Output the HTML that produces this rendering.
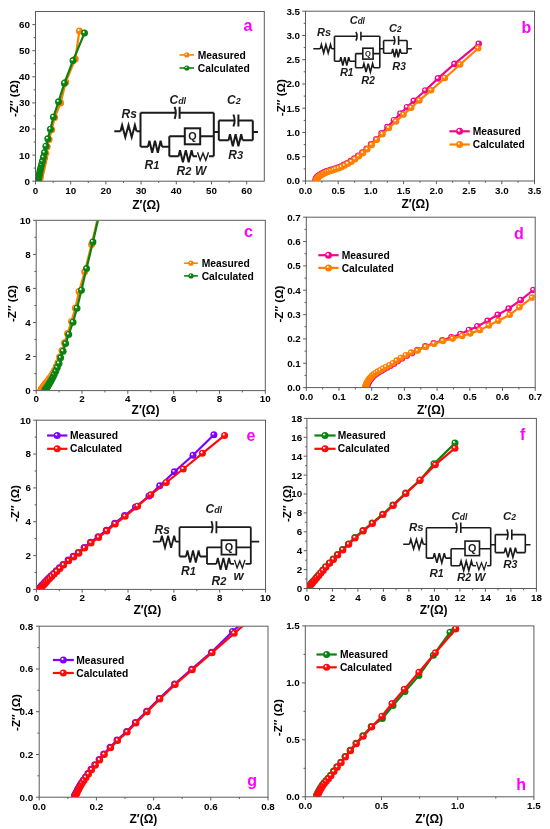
<!DOCTYPE html>
<html lang="en"><head><meta charset="utf-8"><title>Nyquist plots</title>
<style>html,body{margin:0;padding:0;background:#fff}svg{display:block}text{font-family:'Liberation Sans', Arial, sans-serif}.tk text{font-size:9.8px;font-weight:700;fill:#000}.al{font-size:12px;font-weight:700;fill:#000}.yl{font-size:11.7px}.lg{font-size:10.3px;font-weight:700;fill:#000}.pl{font-size:16px;font-weight:700;fill:#ff00ff}.ci text{font-weight:700;font-style:italic;fill:#1a1a1a}.sb{font-size:.74em}.sn{font-size:.92em}</style></head><body>
<svg width="550" height="829" viewBox="0 0 550 829">
<rect width="550" height="829" fill="#fff"/>
<defs>
<radialGradient id="g-orange" cx="0.5" cy="0.5" r="0.5" fx="0.32" fy="0.30"><stop offset="0" stop-color="#fff"/><stop offset="0.13" stop-color="#fff"/><stop offset="0.42" stop-color="#ff8000"/><stop offset="1" stop-color="#ff8000"/></radialGradient>
<radialGradient id="g-green" cx="0.5" cy="0.5" r="0.5" fx="0.32" fy="0.30"><stop offset="0" stop-color="#fff"/><stop offset="0.13" stop-color="#fff"/><stop offset="0.42" stop-color="#0a8212"/><stop offset="1" stop-color="#0a8212"/></radialGradient>
<radialGradient id="g-pink" cx="0.5" cy="0.5" r="0.5" fx="0.32" fy="0.30"><stop offset="0" stop-color="#fff"/><stop offset="0.2" stop-color="#fff"/><stop offset="0.5" stop-color="#f4058c"/><stop offset="1" stop-color="#f4058c"/></radialGradient>
<radialGradient id="g-purple" cx="0.5" cy="0.5" r="0.5" fx="0.32" fy="0.30"><stop offset="0" stop-color="#fff"/><stop offset="0.13" stop-color="#fff"/><stop offset="0.42" stop-color="#8000ff"/><stop offset="1" stop-color="#8000ff"/></radialGradient>
<radialGradient id="g-red" cx="0.5" cy="0.5" r="0.5" fx="0.32" fy="0.30"><stop offset="0" stop-color="#fff"/><stop offset="0.13" stop-color="#fff"/><stop offset="0.42" stop-color="#ff0a0a"/><stop offset="1" stop-color="#ff0a0a"/></radialGradient>
</defs>
<clipPath id="ca"><rect x="36" y="12" width="227.8" height="168.7"/></clipPath>
<rect x="35.5" y="11.5" width="228.8" height="169.7" fill="none" stroke="#5c5c5c" stroke-width="1"/>
<path d="M35.5 181.2v3.2M70.7 181.2v3.2M105.9 181.2v3.2M141.1 181.2v3.2M176.3 181.2v3.2M211.5 181.2v3.2M246.7 181.2v3.2M53.1 181.2v1.8M88.3 181.2v1.8M123.5 181.2v1.8M158.7 181.2v1.8M193.9 181.2v1.8M229.1 181.2v1.8M35.5 181.2h-3.2M35.5 155.1h-3.2M35.5 129h-3.2M35.5 102.9h-3.2M35.5 76.8h-3.2M35.5 50.7h-3.2M35.5 24.6h-3.2M35.5 168.1h-1.8M35.5 142h-1.8M35.5 115.9h-1.8M35.5 89.8h-1.8M35.5 63.7h-1.8M35.5 37.6h-1.8" stroke="#5c5c5c" stroke-width="1" fill="none"/>
<g class="tk" text-anchor="middle">
<text x="35.5" y="194.2">0</text>
<text x="70.7" y="194.2">10</text>
<text x="105.9" y="194.2">20</text>
<text x="141.1" y="194.2">30</text>
<text x="176.3" y="194.2">40</text>
<text x="211.5" y="194.2">50</text>
<text x="246.7" y="194.2">60</text>
</g><g class="tk" text-anchor="end">
<text x="30" y="184.6">0</text>
<text x="30" y="158.5">10</text>
<text x="30" y="132.4">20</text>
<text x="30" y="106.3">30</text>
<text x="30" y="80.2">40</text>
<text x="30" y="54.1">50</text>
<text x="30" y="28">60</text>
</g>
<text class="al" text-anchor="middle" x="146.1" y="208.6">Z′(Ω)</text>
<text class="al yl" text-anchor="middle" transform="translate(17.6 98.5) rotate(-90)">-Z″ (Ω)</text>
<g clip-path="url(#ca)">
<polyline fill="none" stroke="#ff8000" stroke-width="2.2" stroke-linejoin="round" points="39.3,181.2 39.5,180.3 39.7,179.3 40,178.1 40.3,176.7 40.6,175 41,173.1 41.5,170.9 42.1,168.4 42.8,165.4 43.7,161.9 44.7,157.9 45.8,153.2 47.2,146.8 49.1,139.4 51.7,129.8 54.7,117.6 60.6,103 65.8,81.9 75.3,59 79.4,31"/>
<circle cx="39.3" cy="181.2" r="3.5" fill="url(#g-orange)"/>
<circle cx="39.5" cy="180.3" r="3.5" fill="url(#g-orange)"/>
<circle cx="39.7" cy="179.3" r="3.5" fill="url(#g-orange)"/>
<circle cx="40" cy="178.1" r="3.5" fill="url(#g-orange)"/>
<circle cx="40.3" cy="176.7" r="3.5" fill="url(#g-orange)"/>
<circle cx="40.6" cy="175" r="3.5" fill="url(#g-orange)"/>
<circle cx="41" cy="173.1" r="3.5" fill="url(#g-orange)"/>
<circle cx="41.5" cy="170.9" r="3.5" fill="url(#g-orange)"/>
<circle cx="42.1" cy="168.4" r="3.5" fill="url(#g-orange)"/>
<circle cx="42.8" cy="165.4" r="3.5" fill="url(#g-orange)"/>
<circle cx="43.7" cy="161.9" r="3.5" fill="url(#g-orange)"/>
<circle cx="44.7" cy="157.9" r="3.5" fill="url(#g-orange)"/>
<circle cx="45.8" cy="153.2" r="3.5" fill="url(#g-orange)"/>
<circle cx="47.2" cy="146.8" r="3.5" fill="url(#g-orange)"/>
<circle cx="49.1" cy="139.4" r="3.5" fill="url(#g-orange)"/>
<circle cx="51.7" cy="129.8" r="3.5" fill="url(#g-orange)"/>
<circle cx="54.7" cy="117.6" r="3.5" fill="url(#g-orange)"/>
<circle cx="60.6" cy="103" r="3.5" fill="url(#g-orange)"/>
<circle cx="65.8" cy="81.9" r="3.5" fill="url(#g-orange)"/>
<circle cx="75.3" cy="59" r="3.5" fill="url(#g-orange)"/>
<circle cx="79.4" cy="31" r="3.5" fill="url(#g-orange)"/>
</g>
<g clip-path="url(#ca)">
<polyline fill="none" stroke="#0a8212" stroke-width="2.2" stroke-linejoin="round" points="38,180.6 38.2,179.7 38.4,178.7 38.7,177.5 39,176.1 39.3,174.4 39.7,172.5 40.2,170.3 40.8,167.8 41.5,164.8 42.4,161.3 43.4,157.3 44.5,152.6 45.9,146.2 47.8,138.8 50.4,129.2 53.4,117 58.5,101.8 64.4,83.2 73,60.6 84.5,33.1"/>
<circle cx="38" cy="180.6" r="3.5" fill="url(#g-green)"/>
<circle cx="38.2" cy="179.7" r="3.5" fill="url(#g-green)"/>
<circle cx="38.4" cy="178.7" r="3.5" fill="url(#g-green)"/>
<circle cx="38.7" cy="177.5" r="3.5" fill="url(#g-green)"/>
<circle cx="39" cy="176.1" r="3.5" fill="url(#g-green)"/>
<circle cx="39.3" cy="174.4" r="3.5" fill="url(#g-green)"/>
<circle cx="39.7" cy="172.5" r="3.5" fill="url(#g-green)"/>
<circle cx="40.2" cy="170.3" r="3.5" fill="url(#g-green)"/>
<circle cx="40.8" cy="167.8" r="3.5" fill="url(#g-green)"/>
<circle cx="41.5" cy="164.8" r="3.5" fill="url(#g-green)"/>
<circle cx="42.4" cy="161.3" r="3.5" fill="url(#g-green)"/>
<circle cx="43.4" cy="157.3" r="3.5" fill="url(#g-green)"/>
<circle cx="44.5" cy="152.6" r="3.5" fill="url(#g-green)"/>
<circle cx="45.9" cy="146.2" r="3.5" fill="url(#g-green)"/>
<circle cx="47.8" cy="138.8" r="3.5" fill="url(#g-green)"/>
<circle cx="50.4" cy="129.2" r="3.5" fill="url(#g-green)"/>
<circle cx="53.4" cy="117" r="3.5" fill="url(#g-green)"/>
<circle cx="58.5" cy="101.8" r="3.5" fill="url(#g-green)"/>
<circle cx="64.4" cy="83.2" r="3.5" fill="url(#g-green)"/>
<circle cx="73" cy="60.6" r="3.5" fill="url(#g-green)"/>
<circle cx="84.5" cy="33.1" r="3.5" fill="url(#g-green)"/>
</g>
<line x1="179.5" y1="54.9" x2="194" y2="54.9" stroke="#ff8000" stroke-width="1.6"/>
<circle cx="186.8" cy="54.9" r="2.6" fill="url(#g-orange)"/>
<text class="lg" x="197.8" y="58.5">Measured</text>
<line x1="179.5" y1="68" x2="194" y2="68" stroke="#0a8212" stroke-width="1.6"/>
<circle cx="186.8" cy="68" r="2.6" fill="url(#g-green)"/>
<text class="lg" x="197.8" y="71.6">Calculated</text>
<text class="pl" x="243.6" y="30.6">a</text>
<path d="M114.3 131.2H120.5M120.5 131.2L122.1 125.2L125.3 137.2L128.5 125.2L131.7 137.2L134.9 125.2L136.5 131.2M136.5 131.2H140.5M140.5 112.8V146.8M140.5 112.8H175.6M179.6 112.8H213.8M174.6 106.8Q177 112.8 174.6 118.8 M179.6 106.8v12M213.8 112.8V156.2M140.5 146.8H148M148 146.8L149.4 140.8L152.2 152.8L155 140.8L157.8 152.8L160.6 140.8L162 146.8M162 146.8H169.3M169.3 136.2V156.2M169.3 136.2H184.8M200.2 136.2H213.8M169.3 156.2H178.6M178.6 156.2L180 150.2L182.9 162.2L185.8 150.2L188.7 162.2L191.6 150.2L193 156.2M193 156.2H197M209 156.2H213.8M213.8 132H218.8M218.8 120.5V140.2M252.8 120.5V140.2M218.8 120.5H234.4M238.4 120.5H252.8M233.4 114.5Q235.8 120.5 233.4 126.5 M238.4 114.5v12M218.8 140.2H228.6M228.6 140.2L230 134.2L232.8 146.2L235.6 134.2L238.4 146.2L241.2 134.2L242.6 140.2M242.6 140.2H252.8M252.8 132H258" fill="none" stroke="#1a1a1a" stroke-width="2" stroke-linejoin="miter"/>
<path d="M197.5 152.2L200.2 160.2L203 153.2L205.8 160.2L208.5 152.2" fill="none" stroke="#1a1a1a" stroke-width="1.4" stroke-linejoin="miter"/>
<rect x="184.8" y="128.3" width="15.4" height="16" fill="#fff" stroke="#1a1a1a" stroke-width="2"/>
<text x="192.5" y="140.2" text-anchor="middle" font-size="10.8" font-weight="700" fill="#1a1a1a">Q</text>
<g class="ci" font-size="12">
<text x="121.5" y="117.5">R<tspan font-size="1em">s</tspan></text>
<text x="169.5" y="104.3">C<tspan class="sb">dl</tspan></text>
<text x="144.5" y="169">R<tspan class="sn">1</tspan></text>
<text x="176.5" y="175">R<tspan class="sn">2</tspan></text>
<text x="195" y="175">W</text>
<text x="227" y="104.3">C<tspan class="sb">2</tspan></text>
<text x="228.3" y="159">R<tspan class="sn">3</tspan></text>
</g>
<clipPath id="cb"><rect x="306" y="11.7" width="228" height="168.8"/></clipPath>
<rect x="305.5" y="11.2" width="229" height="169.8" fill="none" stroke="#5c5c5c" stroke-width="1"/>
<path d="M305.5 181v3.2M338.2 181v3.2M370.9 181v3.2M403.6 181v3.2M436.4 181v3.2M469.1 181v3.2M501.8 181v3.2M534.5 181v3.2M321.9 181v1.8M354.6 181v1.8M387.3 181v1.8M420 181v1.8M452.7 181v1.8M485.4 181v1.8M518.1 181v1.8M305.5 181h-3.2M305.5 156.7h-3.2M305.5 132.5h-3.2M305.5 108.2h-3.2M305.5 84h-3.2M305.5 59.7h-3.2M305.5 35.5h-3.2M305.5 11.2h-3.2M305.5 168.9h-1.8M305.5 144.6h-1.8M305.5 120.4h-1.8M305.5 96.1h-1.8M305.5 71.8h-1.8M305.5 47.6h-1.8M305.5 23.3h-1.8" stroke="#5c5c5c" stroke-width="1" fill="none"/>
<g class="tk" text-anchor="middle">
<text x="305.5" y="193.7">0.0</text>
<text x="338.2" y="193.7">0.5</text>
<text x="370.9" y="193.7">1.0</text>
<text x="403.6" y="193.7">1.5</text>
<text x="436.4" y="193.7">2.0</text>
<text x="469.1" y="193.7">2.5</text>
<text x="501.8" y="193.7">3.0</text>
<text x="534.5" y="193.7">3.5</text>
</g><g class="tk" text-anchor="end">
<text x="300" y="184.4">0.0</text>
<text x="300" y="160.1">0.5</text>
<text x="300" y="135.9">1.0</text>
<text x="300" y="111.6">1.5</text>
<text x="300" y="87.4">2.0</text>
<text x="300" y="63.1">2.5</text>
<text x="300" y="38.9">3.0</text>
<text x="300" y="14.6">3.5</text>
</g>
<text class="al" text-anchor="middle" x="415.3" y="208.2">Z′(Ω)</text>
<text class="al yl" text-anchor="middle" transform="translate(284.6 97.7) rotate(-90)">-Z″ (Ω)</text>
<g clip-path="url(#cb)">
<polyline fill="none" stroke="#f4058c" stroke-width="2.2" stroke-linejoin="round" points="315.6,180 315.9,179.4 316.3,178.7 316.6,177.9 317.1,177.1 317.9,176.4 318.7,175.7 319.6,175 320.8,174.3 322,173.6 323.4,172.9 324.9,172.1 326.6,171.4 328.5,170.7 330.6,170.1 332.9,169.3 335.4,168.5 338.1,167.6 341,166.5 344,164.9 347.3,163.2 350.8,161.1 354.4,158.6 358.2,155.7 362.4,152.5 366.7,148.7 371.1,144.3 376.3,139.2 381.6,133.4 387.4,127 394,120.2 400.5,113.6 407,107.2 413.8,100.8 425.3,90.5 438,78.4 454.5,63.9 478.7,43.8"/>
<circle cx="315.6" cy="180" r="3.3" fill="url(#g-pink)"/>
<circle cx="315.9" cy="179.4" r="3.3" fill="url(#g-pink)"/>
<circle cx="316.3" cy="178.7" r="3.3" fill="url(#g-pink)"/>
<circle cx="316.6" cy="177.9" r="3.3" fill="url(#g-pink)"/>
<circle cx="317.1" cy="177.1" r="3.3" fill="url(#g-pink)"/>
<circle cx="317.9" cy="176.4" r="3.3" fill="url(#g-pink)"/>
<circle cx="318.7" cy="175.7" r="3.3" fill="url(#g-pink)"/>
<circle cx="319.6" cy="175" r="3.3" fill="url(#g-pink)"/>
<circle cx="320.8" cy="174.3" r="3.3" fill="url(#g-pink)"/>
<circle cx="322" cy="173.6" r="3.3" fill="url(#g-pink)"/>
<circle cx="323.4" cy="172.9" r="3.3" fill="url(#g-pink)"/>
<circle cx="324.9" cy="172.1" r="3.3" fill="url(#g-pink)"/>
<circle cx="326.6" cy="171.4" r="3.3" fill="url(#g-pink)"/>
<circle cx="328.5" cy="170.7" r="3.3" fill="url(#g-pink)"/>
<circle cx="330.6" cy="170.1" r="3.3" fill="url(#g-pink)"/>
<circle cx="332.9" cy="169.3" r="3.3" fill="url(#g-pink)"/>
<circle cx="335.4" cy="168.5" r="3.3" fill="url(#g-pink)"/>
<circle cx="338.1" cy="167.6" r="3.3" fill="url(#g-pink)"/>
<circle cx="341" cy="166.5" r="3.3" fill="url(#g-pink)"/>
<circle cx="344" cy="164.9" r="3.3" fill="url(#g-pink)"/>
<circle cx="347.3" cy="163.2" r="3.3" fill="url(#g-pink)"/>
<circle cx="350.8" cy="161.1" r="3.3" fill="url(#g-pink)"/>
<circle cx="354.4" cy="158.6" r="3.3" fill="url(#g-pink)"/>
<circle cx="358.2" cy="155.7" r="3.3" fill="url(#g-pink)"/>
<circle cx="362.4" cy="152.5" r="3.3" fill="url(#g-pink)"/>
<circle cx="366.7" cy="148.7" r="3.3" fill="url(#g-pink)"/>
<circle cx="371.1" cy="144.3" r="3.3" fill="url(#g-pink)"/>
<circle cx="376.3" cy="139.2" r="3.3" fill="url(#g-pink)"/>
<circle cx="381.6" cy="133.4" r="3.3" fill="url(#g-pink)"/>
<circle cx="387.4" cy="127" r="3.3" fill="url(#g-pink)"/>
<circle cx="394" cy="120.2" r="3.3" fill="url(#g-pink)"/>
<circle cx="400.5" cy="113.6" r="3.3" fill="url(#g-pink)"/>
<circle cx="407" cy="107.2" r="3.3" fill="url(#g-pink)"/>
<circle cx="413.8" cy="100.8" r="3.3" fill="url(#g-pink)"/>
<circle cx="425.3" cy="90.5" r="3.3" fill="url(#g-pink)"/>
<circle cx="438" cy="78.4" r="3.3" fill="url(#g-pink)"/>
<circle cx="454.5" cy="63.9" r="3.3" fill="url(#g-pink)"/>
<circle cx="478.7" cy="43.8" r="3.3" fill="url(#g-pink)"/>
</g>
<g clip-path="url(#cb)">
<polyline fill="none" stroke="#ff8000" stroke-width="2.2" stroke-linejoin="round" points="316.2,180.6 316.5,180 316.9,179.3 317.2,178.5 317.7,177.7 318.5,177 319.3,176.3 320.2,175.6 321.4,174.9 322.6,174.2 324,173.5 325.5,172.7 327.2,172 329.1,171.3 331.2,170.7 333.5,169.9 336,169.1 338.7,168.2 341.6,167.1 344.6,165.5 347.9,163.8 351.4,161.7 355,159.2 358.8,156.3 363,153.1 367.3,149.3 371.7,144.9 376.8,139.8 382.5,134.2 388.9,128 396,121.4 403.5,114.6 411.2,107.8 419.4,100.4 431.1,90.3 444.9,78 460.1,64.5 478.2,48.3"/>
<circle cx="316.2" cy="180.6" r="3.3" fill="url(#g-orange)"/>
<circle cx="316.5" cy="180" r="3.3" fill="url(#g-orange)"/>
<circle cx="316.9" cy="179.3" r="3.3" fill="url(#g-orange)"/>
<circle cx="317.2" cy="178.5" r="3.3" fill="url(#g-orange)"/>
<circle cx="317.7" cy="177.7" r="3.3" fill="url(#g-orange)"/>
<circle cx="318.5" cy="177" r="3.3" fill="url(#g-orange)"/>
<circle cx="319.3" cy="176.3" r="3.3" fill="url(#g-orange)"/>
<circle cx="320.2" cy="175.6" r="3.3" fill="url(#g-orange)"/>
<circle cx="321.4" cy="174.9" r="3.3" fill="url(#g-orange)"/>
<circle cx="322.6" cy="174.2" r="3.3" fill="url(#g-orange)"/>
<circle cx="324" cy="173.5" r="3.3" fill="url(#g-orange)"/>
<circle cx="325.5" cy="172.7" r="3.3" fill="url(#g-orange)"/>
<circle cx="327.2" cy="172" r="3.3" fill="url(#g-orange)"/>
<circle cx="329.1" cy="171.3" r="3.3" fill="url(#g-orange)"/>
<circle cx="331.2" cy="170.7" r="3.3" fill="url(#g-orange)"/>
<circle cx="333.5" cy="169.9" r="3.3" fill="url(#g-orange)"/>
<circle cx="336" cy="169.1" r="3.3" fill="url(#g-orange)"/>
<circle cx="338.7" cy="168.2" r="3.3" fill="url(#g-orange)"/>
<circle cx="341.6" cy="167.1" r="3.3" fill="url(#g-orange)"/>
<circle cx="344.6" cy="165.5" r="3.3" fill="url(#g-orange)"/>
<circle cx="347.9" cy="163.8" r="3.3" fill="url(#g-orange)"/>
<circle cx="351.4" cy="161.7" r="3.3" fill="url(#g-orange)"/>
<circle cx="355" cy="159.2" r="3.3" fill="url(#g-orange)"/>
<circle cx="358.8" cy="156.3" r="3.3" fill="url(#g-orange)"/>
<circle cx="363" cy="153.1" r="3.3" fill="url(#g-orange)"/>
<circle cx="367.3" cy="149.3" r="3.3" fill="url(#g-orange)"/>
<circle cx="371.7" cy="144.9" r="3.3" fill="url(#g-orange)"/>
<circle cx="376.8" cy="139.8" r="3.3" fill="url(#g-orange)"/>
<circle cx="382.5" cy="134.2" r="3.3" fill="url(#g-orange)"/>
<circle cx="388.9" cy="128" r="3.3" fill="url(#g-orange)"/>
<circle cx="396" cy="121.4" r="3.3" fill="url(#g-orange)"/>
<circle cx="403.5" cy="114.6" r="3.3" fill="url(#g-orange)"/>
<circle cx="411.2" cy="107.8" r="3.3" fill="url(#g-orange)"/>
<circle cx="419.4" cy="100.4" r="3.3" fill="url(#g-orange)"/>
<circle cx="431.1" cy="90.3" r="3.3" fill="url(#g-orange)"/>
<circle cx="444.9" cy="78" r="3.3" fill="url(#g-orange)"/>
<circle cx="460.1" cy="64.5" r="3.3" fill="url(#g-orange)"/>
<circle cx="478.2" cy="48.3" r="3.3" fill="url(#g-orange)"/>
</g>
<line x1="449.4" y1="131.3" x2="469.8" y2="131.3" stroke="#f4058c" stroke-width="2.2"/>
<circle cx="459.6" cy="131.3" r="3.5" fill="url(#g-pink)"/>
<text class="lg" x="472.8" y="134.9">Measured</text>
<line x1="449.4" y1="144.5" x2="469.8" y2="144.5" stroke="#ff8000" stroke-width="2.2"/>
<circle cx="459.6" cy="144.5" r="3.5" fill="url(#g-orange)"/>
<text class="lg" x="472.8" y="148.1">Calculated</text>
<text class="pl" x="521.5" y="33">b</text>
<path d="M313.3 48.8H320.3M320.3 48.8L321.4 44.6L323.7 53L325.9 44.6L328.2 53L330.5 44.6L331.6 48.8M331.6 48.8H334.5M334.5 36.2V61.3M334.5 36.2H356.9M360.9 36.2H379.8M355.9 31.8Q358.3 36.2 355.9 40.6 M360.9 31.8v8.8M379.8 36.2V67.8M334.5 61.3H339.9M339.9 61.3L340.9 57.1L342.8 65.5L344.8 57.1L346.8 65.5L348.7 57.1L349.7 61.3M349.7 61.3H355.6M355.6 53.6V67.8M355.6 53.6H362.8M373.1 53.6H379.8M355.6 67.8H362.8M362.8 67.8L363.9 63.6L366.1 72L368.2 63.6L370.4 72L372.6 63.6L373.7 67.8M373.7 67.8H379.8M379.8 48.8H383.6M383.6 40.5V53.2M407.1 40.5V53.2M383.6 40.5H394.6M398.6 40.5H407.1M393.6 36.1Q396 40.5 393.6 44.9 M398.6 36.1v8.8M383.6 53.2H391.8M391.8 53.2L392.7 49L394.6 57.4L396.4 49L398.2 57.4L400.1 49L401 53.2M401 53.2H407.1M407.1 48.8H411.9" fill="none" stroke="#1a1a1a" stroke-width="1.6" stroke-linejoin="miter"/>
<rect x="362.8" y="48.2" width="10.3" height="10.9" fill="#fff" stroke="#1a1a1a" stroke-width="1.6"/>
<text x="368" y="56.4" text-anchor="middle" font-size="7.5" font-weight="700" fill="#1a1a1a">Q</text>
<g class="ci" font-size="11">
<text x="317" y="36.2">R<tspan font-size="1em">s</tspan></text>
<text x="349.7" y="24.2">C<tspan class="sb">dl</tspan></text>
<text x="339.9" y="75.9">R<tspan class="sn">1</tspan></text>
<text x="361.3" y="84.2">R<tspan class="sn">2</tspan></text>
<text x="389" y="31.8">C<tspan class="sb">2</tspan></text>
<text x="392.3" y="70">R<tspan class="sn">3</tspan></text>
</g>
<clipPath id="cc"><rect x="36.7" y="220.8" width="228.1" height="169.3"/></clipPath>
<rect x="36.2" y="220.3" width="229.1" height="170.3" fill="none" stroke="#5c5c5c" stroke-width="1"/>
<path d="M36.2 390.6v3.2M82 390.6v3.2M127.8 390.6v3.2M173.7 390.6v3.2M219.5 390.6v3.2M265.3 390.6v3.2M59.1 390.6v1.8M104.9 390.6v1.8M150.8 390.6v1.8M196.6 390.6v1.8M242.4 390.6v1.8M36.2 390.6h-3.2M36.2 356.5h-3.2M36.2 322.5h-3.2M36.2 288.4h-3.2M36.2 254.4h-3.2M36.2 220.3h-3.2M36.2 373.6h-1.8M36.2 339.5h-1.8M36.2 305.5h-1.8M36.2 271.4h-1.8M36.2 237.3h-1.8" stroke="#5c5c5c" stroke-width="1" fill="none"/>
<g class="tk" text-anchor="middle">
<text x="36.2" y="402.4">0</text>
<text x="82" y="402.4">2</text>
<text x="127.8" y="402.4">4</text>
<text x="173.7" y="402.4">6</text>
<text x="219.5" y="402.4">8</text>
<text x="265.3" y="402.4">10</text>
</g><g class="tk" text-anchor="end">
<text x="30.7" y="394">0</text>
<text x="30.7" y="359.9">2</text>
<text x="30.7" y="325.9">4</text>
<text x="30.7" y="291.8">6</text>
<text x="30.7" y="257.8">8</text>
<text x="30.7" y="223.7">10</text>
</g>
<text class="al" text-anchor="middle" x="145.5" y="413.6">Z′(Ω)</text>
<text class="al yl" text-anchor="middle" transform="translate(16.4 303.6) rotate(-90)">-Z″ (Ω)</text>
<g clip-path="url(#cc)">
<polyline fill="none" stroke="#ff8000" stroke-width="2.2" stroke-linejoin="round" points="41,390 41.3,389.6 41.6,389 42,388.5 42.5,387.8 43,387 43.6,386.2 44.3,385.2 45.1,384.1 46.1,382.9 47.2,381.5 48.4,379.9 49.8,378 51.4,375.9 52.9,373.3 54.6,370.2 56.3,366.6 58,362.4 59.6,357 62,350.4 64.5,342.8 67.5,333.6 71.5,321.4 75.3,308 79,291.5 84.7,271.7 91.6,244.4 99.6,210"/>
<circle cx="41" cy="390" r="3.5" fill="url(#g-orange)"/>
<circle cx="41.3" cy="389.6" r="3.5" fill="url(#g-orange)"/>
<circle cx="41.6" cy="389" r="3.5" fill="url(#g-orange)"/>
<circle cx="42" cy="388.5" r="3.5" fill="url(#g-orange)"/>
<circle cx="42.5" cy="387.8" r="3.5" fill="url(#g-orange)"/>
<circle cx="43" cy="387" r="3.5" fill="url(#g-orange)"/>
<circle cx="43.6" cy="386.2" r="3.5" fill="url(#g-orange)"/>
<circle cx="44.3" cy="385.2" r="3.5" fill="url(#g-orange)"/>
<circle cx="45.1" cy="384.1" r="3.5" fill="url(#g-orange)"/>
<circle cx="46.1" cy="382.9" r="3.5" fill="url(#g-orange)"/>
<circle cx="47.2" cy="381.5" r="3.5" fill="url(#g-orange)"/>
<circle cx="48.4" cy="379.9" r="3.5" fill="url(#g-orange)"/>
<circle cx="49.8" cy="378" r="3.5" fill="url(#g-orange)"/>
<circle cx="51.4" cy="375.9" r="3.5" fill="url(#g-orange)"/>
<circle cx="52.9" cy="373.3" r="3.5" fill="url(#g-orange)"/>
<circle cx="54.6" cy="370.2" r="3.5" fill="url(#g-orange)"/>
<circle cx="56.3" cy="366.6" r="3.5" fill="url(#g-orange)"/>
<circle cx="58" cy="362.4" r="3.5" fill="url(#g-orange)"/>
<circle cx="59.6" cy="357" r="3.5" fill="url(#g-orange)"/>
<circle cx="62" cy="350.4" r="3.5" fill="url(#g-orange)"/>
<circle cx="64.5" cy="342.8" r="3.5" fill="url(#g-orange)"/>
<circle cx="67.5" cy="333.6" r="3.5" fill="url(#g-orange)"/>
<circle cx="71.5" cy="321.4" r="3.5" fill="url(#g-orange)"/>
<circle cx="75.3" cy="308" r="3.5" fill="url(#g-orange)"/>
<circle cx="79" cy="291.5" r="3.5" fill="url(#g-orange)"/>
<circle cx="84.7" cy="271.7" r="3.5" fill="url(#g-orange)"/>
<circle cx="91.6" cy="244.4" r="3.5" fill="url(#g-orange)"/>
<circle cx="99.6" cy="210" r="3.5" fill="url(#g-orange)"/>
</g>
<g clip-path="url(#cc)">
<polyline fill="none" stroke="#0a8212" stroke-width="2.2" stroke-linejoin="round" points="45,390 45.3,389.6 45.7,389.1 46.1,388.5 46.5,387.9 47.1,387.1 47.7,386.2 48.3,385.2 49,384 49.9,382.6 50.8,380.9 51.9,379 53.1,376.8 54.3,374.2 55.8,371.1 57.3,367.5 59,363.4 60.6,357.8 63.1,351.2 65.6,343.6 68.7,334.4 73,322.2 77,308.2 81.4,290.2 86.5,268.6 92.9,241.9 100.6,209"/>
<circle cx="45" cy="390" r="3.5" fill="url(#g-green)"/>
<circle cx="45.3" cy="389.6" r="3.5" fill="url(#g-green)"/>
<circle cx="45.7" cy="389.1" r="3.5" fill="url(#g-green)"/>
<circle cx="46.1" cy="388.5" r="3.5" fill="url(#g-green)"/>
<circle cx="46.5" cy="387.9" r="3.5" fill="url(#g-green)"/>
<circle cx="47.1" cy="387.1" r="3.5" fill="url(#g-green)"/>
<circle cx="47.7" cy="386.2" r="3.5" fill="url(#g-green)"/>
<circle cx="48.3" cy="385.2" r="3.5" fill="url(#g-green)"/>
<circle cx="49" cy="384" r="3.5" fill="url(#g-green)"/>
<circle cx="49.9" cy="382.6" r="3.5" fill="url(#g-green)"/>
<circle cx="50.8" cy="380.9" r="3.5" fill="url(#g-green)"/>
<circle cx="51.9" cy="379" r="3.5" fill="url(#g-green)"/>
<circle cx="53.1" cy="376.8" r="3.5" fill="url(#g-green)"/>
<circle cx="54.3" cy="374.2" r="3.5" fill="url(#g-green)"/>
<circle cx="55.8" cy="371.1" r="3.5" fill="url(#g-green)"/>
<circle cx="57.3" cy="367.5" r="3.5" fill="url(#g-green)"/>
<circle cx="59" cy="363.4" r="3.5" fill="url(#g-green)"/>
<circle cx="60.6" cy="357.8" r="3.5" fill="url(#g-green)"/>
<circle cx="63.1" cy="351.2" r="3.5" fill="url(#g-green)"/>
<circle cx="65.6" cy="343.6" r="3.5" fill="url(#g-green)"/>
<circle cx="68.7" cy="334.4" r="3.5" fill="url(#g-green)"/>
<circle cx="73" cy="322.2" r="3.5" fill="url(#g-green)"/>
<circle cx="77" cy="308.2" r="3.5" fill="url(#g-green)"/>
<circle cx="81.4" cy="290.2" r="3.5" fill="url(#g-green)"/>
<circle cx="86.5" cy="268.6" r="3.5" fill="url(#g-green)"/>
<circle cx="92.9" cy="241.9" r="3.5" fill="url(#g-green)"/>
<circle cx="100.6" cy="209" r="3.5" fill="url(#g-green)"/>
</g>
<line x1="184.1" y1="263.2" x2="197.9" y2="263.2" stroke="#ff8000" stroke-width="1.6"/>
<circle cx="191" cy="263.2" r="2.6" fill="url(#g-orange)"/>
<text class="lg" x="201.7" y="266.8">Measured</text>
<line x1="184.1" y1="275.9" x2="197.9" y2="275.9" stroke="#0a8212" stroke-width="1.6"/>
<circle cx="191" cy="275.9" r="2.6" fill="url(#g-green)"/>
<text class="lg" x="201.7" y="279.5">Calculated</text>
<text class="pl" x="244" y="237">c</text>
<clipPath id="cd"><rect x="306.8" y="217.7" width="227.9" height="169.4"/></clipPath>
<rect x="306.3" y="217.2" width="228.9" height="170.4" fill="none" stroke="#5c5c5c" stroke-width="1"/>
<path d="M306.3 387.6v3.2M339 387.6v3.2M371.7 387.6v3.2M404.4 387.6v3.2M437.1 387.6v3.2M469.8 387.6v3.2M502.5 387.6v3.2M535.2 387.6v3.2M322.6 387.6v1.8M355.4 387.6v1.8M388.1 387.6v1.8M420.8 387.6v1.8M453.5 387.6v1.8M486.2 387.6v1.8M518.9 387.6v1.8M306.3 387.6h-3.2M306.3 363.3h-3.2M306.3 338.9h-3.2M306.3 314.6h-3.2M306.3 290.2h-3.2M306.3 265.9h-3.2M306.3 241.5h-3.2M306.3 217.2h-3.2M306.3 375.4h-1.8M306.3 351.1h-1.8M306.3 326.7h-1.8M306.3 302.4h-1.8M306.3 278.1h-1.8M306.3 253.7h-1.8M306.3 229.4h-1.8" stroke="#5c5c5c" stroke-width="1" fill="none"/>
<g class="tk" text-anchor="middle">
<text x="306.3" y="399.8">0.0</text>
<text x="339" y="399.8">0.1</text>
<text x="371.7" y="399.8">0.2</text>
<text x="404.4" y="399.8">0.3</text>
<text x="437.1" y="399.8">0.4</text>
<text x="469.8" y="399.8">0.5</text>
<text x="502.5" y="399.8">0.6</text>
<text x="535.2" y="399.8">0.7</text>
</g><g class="tk" text-anchor="end">
<text x="300.8" y="391">0.0</text>
<text x="300.8" y="366.7">0.1</text>
<text x="300.8" y="342.3">0.2</text>
<text x="300.8" y="318">0.3</text>
<text x="300.8" y="293.6">0.4</text>
<text x="300.8" y="269.3">0.5</text>
<text x="300.8" y="244.9">0.6</text>
<text x="300.8" y="220.6">0.7</text>
</g>
<text class="al" text-anchor="middle" x="430.9" y="414">Z′(Ω)</text>
<text class="al yl" text-anchor="middle" transform="translate(283.4 304.1) rotate(-90)">-Z″ (Ω)</text>
<g clip-path="url(#cd)">
<polyline fill="none" stroke="#f4058c" stroke-width="2.2" stroke-linejoin="round" points="366.3,387.7 366.5,387 366.8,386.2 367.1,385.4 367.4,384.5 367.9,383.5 368.5,382.5 369.1,381.3 369.9,380.1 370.9,378.9 372,377.5 373.3,376.1 374.9,374.8 376.8,373.5 379,372.1 381.4,370.7 384.1,369.1 387.1,367.5 390.4,365.7 393.9,363.7 397.7,361.1 401.9,358.5 406.7,355.8 412.1,353.1 417.4,350 425.4,346.4 433.8,343.2 442.4,340.2 451.5,337.4 460.5,334 469,330 477.4,326.4 487.6,320.7 497.8,314.8 508.7,308.6 520.7,300.1 533.4,290 549,277"/>
<circle cx="366.3" cy="387.7" r="3.3" fill="url(#g-pink)"/>
<circle cx="366.5" cy="387" r="3.3" fill="url(#g-pink)"/>
<circle cx="366.8" cy="386.2" r="3.3" fill="url(#g-pink)"/>
<circle cx="367.1" cy="385.4" r="3.3" fill="url(#g-pink)"/>
<circle cx="367.4" cy="384.5" r="3.3" fill="url(#g-pink)"/>
<circle cx="367.9" cy="383.5" r="3.3" fill="url(#g-pink)"/>
<circle cx="368.5" cy="382.5" r="3.3" fill="url(#g-pink)"/>
<circle cx="369.1" cy="381.3" r="3.3" fill="url(#g-pink)"/>
<circle cx="369.9" cy="380.1" r="3.3" fill="url(#g-pink)"/>
<circle cx="370.9" cy="378.9" r="3.3" fill="url(#g-pink)"/>
<circle cx="372" cy="377.5" r="3.3" fill="url(#g-pink)"/>
<circle cx="373.3" cy="376.1" r="3.3" fill="url(#g-pink)"/>
<circle cx="374.9" cy="374.8" r="3.3" fill="url(#g-pink)"/>
<circle cx="376.8" cy="373.5" r="3.3" fill="url(#g-pink)"/>
<circle cx="379" cy="372.1" r="3.3" fill="url(#g-pink)"/>
<circle cx="381.4" cy="370.7" r="3.3" fill="url(#g-pink)"/>
<circle cx="384.1" cy="369.1" r="3.3" fill="url(#g-pink)"/>
<circle cx="387.1" cy="367.5" r="3.3" fill="url(#g-pink)"/>
<circle cx="390.4" cy="365.7" r="3.3" fill="url(#g-pink)"/>
<circle cx="393.9" cy="363.7" r="3.3" fill="url(#g-pink)"/>
<circle cx="397.7" cy="361.1" r="3.3" fill="url(#g-pink)"/>
<circle cx="401.9" cy="358.5" r="3.3" fill="url(#g-pink)"/>
<circle cx="406.7" cy="355.8" r="3.3" fill="url(#g-pink)"/>
<circle cx="412.1" cy="353.1" r="3.3" fill="url(#g-pink)"/>
<circle cx="417.4" cy="350" r="3.3" fill="url(#g-pink)"/>
<circle cx="425.4" cy="346.4" r="3.3" fill="url(#g-pink)"/>
<circle cx="433.8" cy="343.2" r="3.3" fill="url(#g-pink)"/>
<circle cx="442.4" cy="340.2" r="3.3" fill="url(#g-pink)"/>
<circle cx="451.5" cy="337.4" r="3.3" fill="url(#g-pink)"/>
<circle cx="460.5" cy="334" r="3.3" fill="url(#g-pink)"/>
<circle cx="469" cy="330" r="3.3" fill="url(#g-pink)"/>
<circle cx="477.4" cy="326.4" r="3.3" fill="url(#g-pink)"/>
<circle cx="487.6" cy="320.7" r="3.3" fill="url(#g-pink)"/>
<circle cx="497.8" cy="314.8" r="3.3" fill="url(#g-pink)"/>
<circle cx="508.7" cy="308.6" r="3.3" fill="url(#g-pink)"/>
<circle cx="520.7" cy="300.1" r="3.3" fill="url(#g-pink)"/>
<circle cx="533.4" cy="290" r="3.3" fill="url(#g-pink)"/>
<circle cx="549" cy="277" r="3.3" fill="url(#g-pink)"/>
</g>
<g clip-path="url(#cd)">
<polyline fill="none" stroke="#ff8000" stroke-width="2.2" stroke-linejoin="round" points="365.3,387.2 365.5,386.5 365.8,385.7 366.1,384.9 366.4,384 366.9,383 367.5,382 368.1,380.8 368.9,379.6 369.9,378.4 371,377 372.3,375.6 373.9,374.3 375.8,373 378,371.6 380.4,370.2 383.1,368.6 386.1,367 389.4,365.2 392.9,363.2 396.7,360.6 400.9,358 405.7,355.3 411.1,352.6 417.6,350.6 425.8,347 434.2,343.8 443,341 452.7,338.6 462.2,335.9 470.3,333.4 480,330.1 488.9,325.4 498.3,320.7 509.7,314.8 519.4,307.3 532.1,297.6 548,285"/>
<circle cx="365.3" cy="387.2" r="3.3" fill="url(#g-orange)"/>
<circle cx="365.5" cy="386.5" r="3.3" fill="url(#g-orange)"/>
<circle cx="365.8" cy="385.7" r="3.3" fill="url(#g-orange)"/>
<circle cx="366.1" cy="384.9" r="3.3" fill="url(#g-orange)"/>
<circle cx="366.4" cy="384" r="3.3" fill="url(#g-orange)"/>
<circle cx="366.9" cy="383" r="3.3" fill="url(#g-orange)"/>
<circle cx="367.5" cy="382" r="3.3" fill="url(#g-orange)"/>
<circle cx="368.1" cy="380.8" r="3.3" fill="url(#g-orange)"/>
<circle cx="368.9" cy="379.6" r="3.3" fill="url(#g-orange)"/>
<circle cx="369.9" cy="378.4" r="3.3" fill="url(#g-orange)"/>
<circle cx="371" cy="377" r="3.3" fill="url(#g-orange)"/>
<circle cx="372.3" cy="375.6" r="3.3" fill="url(#g-orange)"/>
<circle cx="373.9" cy="374.3" r="3.3" fill="url(#g-orange)"/>
<circle cx="375.8" cy="373" r="3.3" fill="url(#g-orange)"/>
<circle cx="378" cy="371.6" r="3.3" fill="url(#g-orange)"/>
<circle cx="380.4" cy="370.2" r="3.3" fill="url(#g-orange)"/>
<circle cx="383.1" cy="368.6" r="3.3" fill="url(#g-orange)"/>
<circle cx="386.1" cy="367" r="3.3" fill="url(#g-orange)"/>
<circle cx="389.4" cy="365.2" r="3.3" fill="url(#g-orange)"/>
<circle cx="392.9" cy="363.2" r="3.3" fill="url(#g-orange)"/>
<circle cx="396.7" cy="360.6" r="3.3" fill="url(#g-orange)"/>
<circle cx="400.9" cy="358" r="3.3" fill="url(#g-orange)"/>
<circle cx="405.7" cy="355.3" r="3.3" fill="url(#g-orange)"/>
<circle cx="411.1" cy="352.6" r="3.3" fill="url(#g-orange)"/>
<circle cx="417.6" cy="350.6" r="3.3" fill="url(#g-orange)"/>
<circle cx="425.8" cy="347" r="3.3" fill="url(#g-orange)"/>
<circle cx="434.2" cy="343.8" r="3.3" fill="url(#g-orange)"/>
<circle cx="443" cy="341" r="3.3" fill="url(#g-orange)"/>
<circle cx="452.7" cy="338.6" r="3.3" fill="url(#g-orange)"/>
<circle cx="462.2" cy="335.9" r="3.3" fill="url(#g-orange)"/>
<circle cx="470.3" cy="333.4" r="3.3" fill="url(#g-orange)"/>
<circle cx="480" cy="330.1" r="3.3" fill="url(#g-orange)"/>
<circle cx="488.9" cy="325.4" r="3.3" fill="url(#g-orange)"/>
<circle cx="498.3" cy="320.7" r="3.3" fill="url(#g-orange)"/>
<circle cx="509.7" cy="314.8" r="3.3" fill="url(#g-orange)"/>
<circle cx="519.4" cy="307.3" r="3.3" fill="url(#g-orange)"/>
<circle cx="532.1" cy="297.6" r="3.3" fill="url(#g-orange)"/>
<circle cx="548" cy="285" r="3.3" fill="url(#g-orange)"/>
</g>
<line x1="318.3" y1="255.2" x2="338.6" y2="255.2" stroke="#f4058c" stroke-width="2.2"/>
<circle cx="328.5" cy="255.2" r="3.5" fill="url(#g-pink)"/>
<text class="lg" x="341.7" y="258.8">Measured</text>
<line x1="318.3" y1="267.9" x2="338.6" y2="267.9" stroke="#ff8000" stroke-width="2.2"/>
<circle cx="328.5" cy="267.9" r="3.5" fill="url(#g-orange)"/>
<text class="lg" x="341.7" y="271.5">Calculated</text>
<text class="pl" x="514" y="238.5">d</text>
<clipPath id="ce"><rect x="36.9" y="420.7" width="228.1" height="168.2"/></clipPath>
<rect x="36.4" y="420.2" width="229.1" height="169.2" fill="none" stroke="#5c5c5c" stroke-width="1"/>
<path d="M36.4 589.4v3.2M82.2 589.4v3.2M128 589.4v3.2M173.9 589.4v3.2M219.7 589.4v3.2M265.5 589.4v3.2M59.3 589.4v1.8M105.1 589.4v1.8M150.9 589.4v1.8M196.8 589.4v1.8M242.6 589.4v1.8M36.4 589.4h-3.2M36.4 555.6h-3.2M36.4 521.7h-3.2M36.4 487.9h-3.2M36.4 454h-3.2M36.4 420.2h-3.2M36.4 572.5h-1.8M36.4 538.6h-1.8M36.4 504.8h-1.8M36.4 471h-1.8M36.4 437.1h-1.8" stroke="#5c5c5c" stroke-width="1" fill="none"/>
<g class="tk" text-anchor="middle">
<text x="36.4" y="601.2">0</text>
<text x="82.2" y="601.2">2</text>
<text x="128" y="601.2">4</text>
<text x="173.9" y="601.2">6</text>
<text x="219.7" y="601.2">8</text>
<text x="265.5" y="601.2">10</text>
</g><g class="tk" text-anchor="end">
<text x="30.9" y="592.8">0</text>
<text x="30.9" y="559">2</text>
<text x="30.9" y="525.1">4</text>
<text x="30.9" y="491.3">6</text>
<text x="30.9" y="457.4">8</text>
<text x="30.9" y="423.6">10</text>
</g>
<text class="al" text-anchor="middle" x="147.3" y="613.6">Z′(Ω)</text>
<text class="al yl" text-anchor="middle" transform="translate(19.1 503.6) rotate(-90)">-Z″ (Ω)</text>
<g clip-path="url(#ce)">
<polyline fill="none" stroke="#8000ff" stroke-width="2.2" stroke-linejoin="round" points="38.6,588.9 39.1,588.3 39.8,587.7 40.5,586.9 41.3,586.1 42.2,585.1 43.3,584 44.4,582.7 45.8,581.3 47.3,579.6 49.1,577.8 51.2,575.7 53.6,573.4 56.3,570.8 59.4,567.8 63,564.4 68.1,560.1 73.2,556.3 78.3,552.5 84.1,547.4 90.5,542.3 98.1,536.7 106.3,530.3 114.7,523.2 124.6,515.6 135.5,507 149,496 159.7,485.8 174.4,471.8 193,455.3 213.9,434.7"/>
<circle cx="38.6" cy="588.9" r="3.5" fill="url(#g-purple)"/>
<circle cx="39.1" cy="588.3" r="3.5" fill="url(#g-purple)"/>
<circle cx="39.8" cy="587.7" r="3.5" fill="url(#g-purple)"/>
<circle cx="40.5" cy="586.9" r="3.5" fill="url(#g-purple)"/>
<circle cx="41.3" cy="586.1" r="3.5" fill="url(#g-purple)"/>
<circle cx="42.2" cy="585.1" r="3.5" fill="url(#g-purple)"/>
<circle cx="43.3" cy="584" r="3.5" fill="url(#g-purple)"/>
<circle cx="44.4" cy="582.7" r="3.5" fill="url(#g-purple)"/>
<circle cx="45.8" cy="581.3" r="3.5" fill="url(#g-purple)"/>
<circle cx="47.3" cy="579.6" r="3.5" fill="url(#g-purple)"/>
<circle cx="49.1" cy="577.8" r="3.5" fill="url(#g-purple)"/>
<circle cx="51.2" cy="575.7" r="3.5" fill="url(#g-purple)"/>
<circle cx="53.6" cy="573.4" r="3.5" fill="url(#g-purple)"/>
<circle cx="56.3" cy="570.8" r="3.5" fill="url(#g-purple)"/>
<circle cx="59.4" cy="567.8" r="3.5" fill="url(#g-purple)"/>
<circle cx="63" cy="564.4" r="3.5" fill="url(#g-purple)"/>
<circle cx="68.1" cy="560.1" r="3.5" fill="url(#g-purple)"/>
<circle cx="73.2" cy="556.3" r="3.5" fill="url(#g-purple)"/>
<circle cx="78.3" cy="552.5" r="3.5" fill="url(#g-purple)"/>
<circle cx="84.1" cy="547.4" r="3.5" fill="url(#g-purple)"/>
<circle cx="90.5" cy="542.3" r="3.5" fill="url(#g-purple)"/>
<circle cx="98.1" cy="536.7" r="3.5" fill="url(#g-purple)"/>
<circle cx="106.3" cy="530.3" r="3.5" fill="url(#g-purple)"/>
<circle cx="114.7" cy="523.2" r="3.5" fill="url(#g-purple)"/>
<circle cx="124.6" cy="515.6" r="3.5" fill="url(#g-purple)"/>
<circle cx="135.5" cy="507" r="3.5" fill="url(#g-purple)"/>
<circle cx="149" cy="496" r="3.5" fill="url(#g-purple)"/>
<circle cx="159.7" cy="485.8" r="3.5" fill="url(#g-purple)"/>
<circle cx="174.4" cy="471.8" r="3.5" fill="url(#g-purple)"/>
<circle cx="193" cy="455.3" r="3.5" fill="url(#g-purple)"/>
<circle cx="213.9" cy="434.7" r="3.5" fill="url(#g-purple)"/>
</g>
<g clip-path="url(#ce)">
<polyline fill="none" stroke="#ff0a0a" stroke-width="2.2" stroke-linejoin="round" points="39.2,589.6 39.7,589 40.4,588.4 41.1,587.6 41.9,586.8 42.8,585.8 43.9,584.7 45,583.4 46.4,582 47.9,580.3 49.7,578.5 51.8,576.4 54.2,574.1 56.9,571.5 60,568.5 63.6,565.1 68.7,560.8 73.8,557 78.9,553.2 84.7,548.1 91.1,543 98.7,537.4 106.9,531 115.3,523.9 125.2,516.3 137.6,506.2 150.8,494.7 166.3,482.5 183.3,469 202.4,453.3 224.6,435.4"/>
<circle cx="39.2" cy="589.6" r="3.5" fill="url(#g-red)"/>
<circle cx="39.7" cy="589" r="3.5" fill="url(#g-red)"/>
<circle cx="40.4" cy="588.4" r="3.5" fill="url(#g-red)"/>
<circle cx="41.1" cy="587.6" r="3.5" fill="url(#g-red)"/>
<circle cx="41.9" cy="586.8" r="3.5" fill="url(#g-red)"/>
<circle cx="42.8" cy="585.8" r="3.5" fill="url(#g-red)"/>
<circle cx="43.9" cy="584.7" r="3.5" fill="url(#g-red)"/>
<circle cx="45" cy="583.4" r="3.5" fill="url(#g-red)"/>
<circle cx="46.4" cy="582" r="3.5" fill="url(#g-red)"/>
<circle cx="47.9" cy="580.3" r="3.5" fill="url(#g-red)"/>
<circle cx="49.7" cy="578.5" r="3.5" fill="url(#g-red)"/>
<circle cx="51.8" cy="576.4" r="3.5" fill="url(#g-red)"/>
<circle cx="54.2" cy="574.1" r="3.5" fill="url(#g-red)"/>
<circle cx="56.9" cy="571.5" r="3.5" fill="url(#g-red)"/>
<circle cx="60" cy="568.5" r="3.5" fill="url(#g-red)"/>
<circle cx="63.6" cy="565.1" r="3.5" fill="url(#g-red)"/>
<circle cx="68.7" cy="560.8" r="3.5" fill="url(#g-red)"/>
<circle cx="73.8" cy="557" r="3.5" fill="url(#g-red)"/>
<circle cx="78.9" cy="553.2" r="3.5" fill="url(#g-red)"/>
<circle cx="84.7" cy="548.1" r="3.5" fill="url(#g-red)"/>
<circle cx="91.1" cy="543" r="3.5" fill="url(#g-red)"/>
<circle cx="98.7" cy="537.4" r="3.5" fill="url(#g-red)"/>
<circle cx="106.9" cy="531" r="3.5" fill="url(#g-red)"/>
<circle cx="115.3" cy="523.9" r="3.5" fill="url(#g-red)"/>
<circle cx="125.2" cy="516.3" r="3.5" fill="url(#g-red)"/>
<circle cx="137.6" cy="506.2" r="3.5" fill="url(#g-red)"/>
<circle cx="150.8" cy="494.7" r="3.5" fill="url(#g-red)"/>
<circle cx="166.3" cy="482.5" r="3.5" fill="url(#g-red)"/>
<circle cx="183.3" cy="469" r="3.5" fill="url(#g-red)"/>
<circle cx="202.4" cy="453.3" r="3.5" fill="url(#g-red)"/>
<circle cx="224.6" cy="435.4" r="3.5" fill="url(#g-red)"/>
</g>
<line x1="47.1" y1="435.5" x2="67.4" y2="435.5" stroke="#8000ff" stroke-width="2.2"/>
<circle cx="57.2" cy="435.5" r="3.5" fill="url(#g-purple)"/>
<text class="lg" x="70" y="439.1">Measured</text>
<line x1="47.1" y1="448.8" x2="67.4" y2="448.8" stroke="#ff0a0a" stroke-width="2.2"/>
<circle cx="57.2" cy="448.8" r="3.5" fill="url(#g-red)"/>
<text class="lg" x="70" y="452.4">Calculated</text>
<text class="pl" x="246.6" y="440.7">e</text>
<path d="M152.8 541.7H160.4M160.4 541.7L161.9 535.7L165 547.7L168.1 535.7L171.1 547.7L174.2 535.7L175.7 541.7M175.7 541.7H179.5M179.5 527.2V556.5M179.5 527.2H212.4M216.4 527.2H250.8M211.4 521.2Q213.8 527.2 211.4 533.2 M216.4 521.2v12M250.8 527.2V563.9M179.5 556.5H186M186 556.5L187.4 550.5L190.2 562.5L193 550.5L195.8 562.5L198.6 550.5L200 556.5M200 556.5H207M207 547.3V563.9M207 547.3H221.5M236.3 547.3H250.8M207 563.9H216.4M216.4 563.9L217.8 557.9L220.6 569.9L223.4 557.9L226.2 569.9L229 557.9L230.4 563.9M230.4 563.9H234M245.5 563.9H250.8M250.8 541.7H259.2" fill="none" stroke="#1a1a1a" stroke-width="1.8" stroke-linejoin="miter"/>
<path d="M234.5 559.9L237.1 567.9L239.8 560.9L242.4 567.9L245 559.9" fill="none" stroke="#1a1a1a" stroke-width="1.3" stroke-linejoin="miter"/>
<rect x="221.5" y="540.2" width="14.8" height="14.4" fill="#fff" stroke="#1a1a1a" stroke-width="1.8"/>
<text x="228.9" y="551.3" text-anchor="middle" font-size="10.8" font-weight="700" fill="#1a1a1a">Q</text>
<g class="ci" font-size="12">
<text x="154.5" y="534.3">R<tspan font-size="1em">s</tspan></text>
<text x="205.5" y="513.3">C<tspan class="sb">dl</tspan></text>
<text x="181" y="575">R<tspan class="sn">1</tspan></text>
<text x="211.5" y="585.3">R<tspan class="sn">2</tspan></text>
<text x="233.5" y="580.3"><tspan font-size="13">w</tspan></text>
</g>
<clipPath id="cf"><rect x="307.4" y="418.9" width="228.5" height="169.1"/></clipPath>
<rect x="306.9" y="418.4" width="229.5" height="170.1" fill="none" stroke="#5c5c5c" stroke-width="1"/>
<path d="M306.9 588.5v3.2M332.4 588.5v3.2M357.9 588.5v3.2M383.4 588.5v3.2M408.9 588.5v3.2M434.4 588.5v3.2M459.9 588.5v3.2M485.4 588.5v3.2M510.9 588.5v3.2M536.4 588.5v3.2M319.6 588.5v1.8M345.1 588.5v1.8M370.6 588.5v1.8M396.1 588.5v1.8M421.6 588.5v1.8M447.1 588.5v1.8M472.6 588.5v1.8M498.1 588.5v1.8M523.6 588.5v1.8M306.9 588.5h-3.2M306.9 569.6h-3.2M306.9 550.7h-3.2M306.9 531.8h-3.2M306.9 512.9h-3.2M306.9 494h-3.2M306.9 475.1h-3.2M306.9 456.2h-3.2M306.9 437.3h-3.2M306.9 418.4h-3.2M306.9 579h-1.8M306.9 560.2h-1.8M306.9 541.2h-1.8M306.9 522.3h-1.8M306.9 503.4h-1.8M306.9 484.6h-1.8M306.9 465.6h-1.8M306.9 446.8h-1.8M306.9 427.8h-1.8" stroke="#5c5c5c" stroke-width="1" fill="none"/>
<g class="tk" text-anchor="middle">
<text x="306.9" y="600.8">0</text>
<text x="332.4" y="600.8">2</text>
<text x="357.9" y="600.8">4</text>
<text x="383.4" y="600.8">6</text>
<text x="408.9" y="600.8">8</text>
<text x="434.4" y="600.8">10</text>
<text x="459.9" y="600.8">12</text>
<text x="485.4" y="600.8">14</text>
<text x="510.9" y="600.8">16</text>
<text x="536.4" y="600.8">18</text>
</g><g class="tk" text-anchor="end">
<text x="302.2" y="591.9">0</text>
<text x="302.2" y="573">2</text>
<text x="302.2" y="554.1">4</text>
<text x="302.2" y="535.2">6</text>
<text x="302.2" y="516.3">8</text>
<text x="302.2" y="497.4">10</text>
<text x="302.2" y="478.5">12</text>
<text x="302.2" y="459.6">14</text>
<text x="302.2" y="440.7">16</text>
<text x="302.2" y="421.8">18</text>
</g>
<text class="al" text-anchor="middle" x="433.6" y="613.6">Z′(Ω)</text>
<text class="al yl" text-anchor="middle" transform="translate(290.8 503.6) rotate(-90)">-Z″ (Ω)</text>
<g clip-path="url(#cf)">
<polyline fill="none" stroke="#0a8212" stroke-width="2.2" stroke-linejoin="round" points="309,586 309.5,585.4 310.2,584.6 310.9,583.8 311.8,582.8 312.7,581.7 313.9,580.4 315.2,578.9 316.7,577.1 318.5,575.1 320.5,572.7 322.8,570 325.5,566.8 329.3,562.9 333.1,559.1 337.4,554.5 342.5,549.5 348.4,543.9 354.8,537.5 362.9,530.6 372.1,523 382.7,514.2 392.9,505 405.6,493.1 419.8,480.4 434,463.8 455,443.1"/>
<circle cx="309" cy="586" r="3.5" fill="url(#g-green)"/>
<circle cx="309.5" cy="585.4" r="3.5" fill="url(#g-green)"/>
<circle cx="310.2" cy="584.6" r="3.5" fill="url(#g-green)"/>
<circle cx="310.9" cy="583.8" r="3.5" fill="url(#g-green)"/>
<circle cx="311.8" cy="582.8" r="3.5" fill="url(#g-green)"/>
<circle cx="312.7" cy="581.7" r="3.5" fill="url(#g-green)"/>
<circle cx="313.9" cy="580.4" r="3.5" fill="url(#g-green)"/>
<circle cx="315.2" cy="578.9" r="3.5" fill="url(#g-green)"/>
<circle cx="316.7" cy="577.1" r="3.5" fill="url(#g-green)"/>
<circle cx="318.5" cy="575.1" r="3.5" fill="url(#g-green)"/>
<circle cx="320.5" cy="572.7" r="3.5" fill="url(#g-green)"/>
<circle cx="322.8" cy="570" r="3.5" fill="url(#g-green)"/>
<circle cx="325.5" cy="566.8" r="3.5" fill="url(#g-green)"/>
<circle cx="329.3" cy="562.9" r="3.5" fill="url(#g-green)"/>
<circle cx="333.1" cy="559.1" r="3.5" fill="url(#g-green)"/>
<circle cx="337.4" cy="554.5" r="3.5" fill="url(#g-green)"/>
<circle cx="342.5" cy="549.5" r="3.5" fill="url(#g-green)"/>
<circle cx="348.4" cy="543.9" r="3.5" fill="url(#g-green)"/>
<circle cx="354.8" cy="537.5" r="3.5" fill="url(#g-green)"/>
<circle cx="362.9" cy="530.6" r="3.5" fill="url(#g-green)"/>
<circle cx="372.1" cy="523" r="3.5" fill="url(#g-green)"/>
<circle cx="382.7" cy="514.2" r="3.5" fill="url(#g-green)"/>
<circle cx="392.9" cy="505" r="3.5" fill="url(#g-green)"/>
<circle cx="405.6" cy="493.1" r="3.5" fill="url(#g-green)"/>
<circle cx="419.8" cy="480.4" r="3.5" fill="url(#g-green)"/>
<circle cx="434" cy="463.8" r="3.5" fill="url(#g-green)"/>
<circle cx="455" cy="443.1" r="3.5" fill="url(#g-green)"/>
</g>
<g clip-path="url(#cf)">
<polyline fill="none" stroke="#ff0a0a" stroke-width="2.2" stroke-linejoin="round" points="309.4,586.4 309.9,585.8 310.6,585 311.3,584.2 312.2,583.2 313.1,582.1 314.3,580.8 315.6,579.3 317.1,577.5 318.9,575.5 320.9,573.1 323.2,570.4 325.9,567.2 329.7,563.3 333.5,559.5 337.8,554.9 342.9,549.9 348.8,544.3 355.2,537.9 363.3,531 372.5,523.4 383.1,514.6 393.3,505.4 406,493.5 420.2,480 435.4,464.7 455,448.2"/>
<circle cx="309.4" cy="586.4" r="3.5" fill="url(#g-red)"/>
<circle cx="309.9" cy="585.8" r="3.5" fill="url(#g-red)"/>
<circle cx="310.6" cy="585" r="3.5" fill="url(#g-red)"/>
<circle cx="311.3" cy="584.2" r="3.5" fill="url(#g-red)"/>
<circle cx="312.2" cy="583.2" r="3.5" fill="url(#g-red)"/>
<circle cx="313.1" cy="582.1" r="3.5" fill="url(#g-red)"/>
<circle cx="314.3" cy="580.8" r="3.5" fill="url(#g-red)"/>
<circle cx="315.6" cy="579.3" r="3.5" fill="url(#g-red)"/>
<circle cx="317.1" cy="577.5" r="3.5" fill="url(#g-red)"/>
<circle cx="318.9" cy="575.5" r="3.5" fill="url(#g-red)"/>
<circle cx="320.9" cy="573.1" r="3.5" fill="url(#g-red)"/>
<circle cx="323.2" cy="570.4" r="3.5" fill="url(#g-red)"/>
<circle cx="325.9" cy="567.2" r="3.5" fill="url(#g-red)"/>
<circle cx="329.7" cy="563.3" r="3.5" fill="url(#g-red)"/>
<circle cx="333.5" cy="559.5" r="3.5" fill="url(#g-red)"/>
<circle cx="337.8" cy="554.9" r="3.5" fill="url(#g-red)"/>
<circle cx="342.9" cy="549.9" r="3.5" fill="url(#g-red)"/>
<circle cx="348.8" cy="544.3" r="3.5" fill="url(#g-red)"/>
<circle cx="355.2" cy="537.9" r="3.5" fill="url(#g-red)"/>
<circle cx="363.3" cy="531" r="3.5" fill="url(#g-red)"/>
<circle cx="372.5" cy="523.4" r="3.5" fill="url(#g-red)"/>
<circle cx="383.1" cy="514.6" r="3.5" fill="url(#g-red)"/>
<circle cx="393.3" cy="505.4" r="3.5" fill="url(#g-red)"/>
<circle cx="406" cy="493.5" r="3.5" fill="url(#g-red)"/>
<circle cx="420.2" cy="480" r="3.5" fill="url(#g-red)"/>
<circle cx="435.4" cy="464.7" r="3.5" fill="url(#g-red)"/>
<circle cx="455" cy="448.2" r="3.5" fill="url(#g-red)"/>
</g>
<line x1="314.4" y1="435.5" x2="335.6" y2="435.5" stroke="#0a8212" stroke-width="2.2"/>
<circle cx="325" cy="435.5" r="3.5" fill="url(#g-green)"/>
<text class="lg" x="337.8" y="439.1">Measured</text>
<line x1="314.4" y1="448.8" x2="335.6" y2="448.8" stroke="#ff0a0a" stroke-width="2.2"/>
<circle cx="325" cy="448.8" r="3.5" fill="url(#g-red)"/>
<text class="lg" x="337.8" y="452.4">Calculated</text>
<text class="pl" x="520" y="440">f</text>
<path d="M403.2 544.2H409.4M409.4 544.2L410.8 539.4L413.6 549L416.4 539.4L419.1 549L421.9 539.4L423.3 544.2M423.3 544.2H426.4M426.4 527.8V558.1M426.4 527.8H456.8M460.8 527.8H490.7M455.8 522.6Q458.2 527.8 455.8 533 M460.8 522.6v10.4M490.7 527.8V565.8M426.4 558.1H433.2M433.2 558.1L434.4 553.3L436.9 562.9L439.3 553.3L441.8 562.9L444.3 553.3L445.5 558.1M445.5 558.1H451.1M451.1 548.8V565.8M451.1 548.8H465M479.5 548.8H490.7M451.1 565.8H459.8M459.8 565.8L461.1 561L463.7 570.6L466.2 561L468.8 570.6L471.4 561L472.7 565.8M472.7 565.8H475.9M487.1 565.8H490.7M490.7 544.8H495.3M495.3 534.6V552.6M525.3 534.6V552.6M495.3 534.6H507.8M511.8 534.6H525.3M506.8 529.4Q509.2 534.6 506.8 539.8 M511.8 529.4v10.4M495.3 552.6H504.3M504.3 552.6L505.5 547.8L508 557.4L510.4 547.8L512.9 557.4L515.4 547.8L516.6 552.6M516.6 552.6H525.3M525.3 544.8H530.5" fill="none" stroke="#1a1a1a" stroke-width="1.6" stroke-linejoin="miter"/>
<path d="M476.4 561.8L478.9 569.8L481.5 562.8L484.1 569.8L486.6 561.8" fill="none" stroke="#1a1a1a" stroke-width="1.2" stroke-linejoin="miter"/>
<rect x="465" y="541.1" width="14.5" height="14.5" fill="#fff" stroke="#1a1a1a" stroke-width="1.6"/>
<text x="472.2" y="552.2" text-anchor="middle" font-size="10.8" font-weight="700" fill="#1a1a1a">Q</text>
<g class="ci" font-size="11.5">
<text x="409" y="531">R<tspan font-size="1em">s</tspan></text>
<text x="451.5" y="520.2">C<tspan class="sb">dl</tspan></text>
<text x="429.5" y="577">R<tspan class="sn">1</tspan></text>
<text x="457" y="581.3">R<tspan class="sn">2</tspan></text>
<text x="474.5" y="581.3">W</text>
<text x="503" y="520.2">C<tspan class="sb">2</tspan></text>
<text x="503.3" y="568.3">R<tspan class="sn">3</tspan></text>
</g>
<clipPath id="cg"><rect x="39.7" y="626.7" width="227.8" height="170"/></clipPath>
<rect x="39.2" y="626.2" width="228.8" height="171" fill="none" stroke="#5c5c5c" stroke-width="1"/>
<path d="M39.2 797.2v3.2M96.4 797.2v3.2M153.6 797.2v3.2M210.8 797.2v3.2M268 797.2v3.2M67.8 797.2v1.8M125 797.2v1.8M182.2 797.2v1.8M239.4 797.2v1.8M39.2 797.2h-3.2M39.2 754.5h-3.2M39.2 711.7h-3.2M39.2 669h-3.2M39.2 626.2h-3.2M39.2 775.8h-1.8M39.2 733.1h-1.8M39.2 690.3h-1.8M39.2 647.6h-1.8" stroke="#5c5c5c" stroke-width="1" fill="none"/>
<g class="tk" text-anchor="middle">
<text x="39.2" y="809.5">0.0</text>
<text x="96.4" y="809.5">0.2</text>
<text x="153.6" y="809.5">0.4</text>
<text x="210.8" y="809.5">0.6</text>
<text x="268" y="809.5">0.8</text>
</g><g class="tk" text-anchor="end">
<text x="33.2" y="800.6">0.0</text>
<text x="33.2" y="757.9">0.2</text>
<text x="33.2" y="715.1">0.4</text>
<text x="33.2" y="672.4">0.6</text>
<text x="33.2" y="629.6">0.8</text>
</g>
<text class="al" text-anchor="middle" x="143.4" y="823">Z′(Ω)</text>
<text class="al yl" text-anchor="middle" transform="translate(20.2 712.5) rotate(-90)">-Z″ (Ω)</text>
<g clip-path="url(#cg)">
<polyline fill="none" stroke="#8000ff" stroke-width="2.2" stroke-linejoin="round" points="74.5,796 74.8,795.3 75.2,794.6 75.6,793.7 76.1,792.7 76.7,791.5 77.4,790.1 78.2,788.6 79.2,786.8 80.3,784.8 81.7,782.5 83.4,779.9 85.5,776.9 87.9,773.6 91,769.3 94.8,764.7 99.1,759.6 103.7,754 110.1,747.2 117,740 126.6,731.6 135.4,722.5 146.6,711.2 159.3,698.5 174.6,684 191.7,669.2 211.5,652.2 232.5,631.5 257,610"/>
<circle cx="74.5" cy="796" r="3.5" fill="url(#g-purple)"/>
<circle cx="74.8" cy="795.3" r="3.5" fill="url(#g-purple)"/>
<circle cx="75.2" cy="794.6" r="3.5" fill="url(#g-purple)"/>
<circle cx="75.6" cy="793.7" r="3.5" fill="url(#g-purple)"/>
<circle cx="76.1" cy="792.7" r="3.5" fill="url(#g-purple)"/>
<circle cx="76.7" cy="791.5" r="3.5" fill="url(#g-purple)"/>
<circle cx="77.4" cy="790.1" r="3.5" fill="url(#g-purple)"/>
<circle cx="78.2" cy="788.6" r="3.5" fill="url(#g-purple)"/>
<circle cx="79.2" cy="786.8" r="3.5" fill="url(#g-purple)"/>
<circle cx="80.3" cy="784.8" r="3.5" fill="url(#g-purple)"/>
<circle cx="81.7" cy="782.5" r="3.5" fill="url(#g-purple)"/>
<circle cx="83.4" cy="779.9" r="3.5" fill="url(#g-purple)"/>
<circle cx="85.5" cy="776.9" r="3.5" fill="url(#g-purple)"/>
<circle cx="87.9" cy="773.6" r="3.5" fill="url(#g-purple)"/>
<circle cx="91" cy="769.3" r="3.5" fill="url(#g-purple)"/>
<circle cx="94.8" cy="764.7" r="3.5" fill="url(#g-purple)"/>
<circle cx="99.1" cy="759.6" r="3.5" fill="url(#g-purple)"/>
<circle cx="103.7" cy="754" r="3.5" fill="url(#g-purple)"/>
<circle cx="110.1" cy="747.2" r="3.5" fill="url(#g-purple)"/>
<circle cx="117" cy="740" r="3.5" fill="url(#g-purple)"/>
<circle cx="126.6" cy="731.6" r="3.5" fill="url(#g-purple)"/>
<circle cx="135.4" cy="722.5" r="3.5" fill="url(#g-purple)"/>
<circle cx="146.6" cy="711.2" r="3.5" fill="url(#g-purple)"/>
<circle cx="159.3" cy="698.5" r="3.5" fill="url(#g-purple)"/>
<circle cx="174.6" cy="684" r="3.5" fill="url(#g-purple)"/>
<circle cx="191.7" cy="669.2" r="3.5" fill="url(#g-purple)"/>
<circle cx="211.5" cy="652.2" r="3.5" fill="url(#g-purple)"/>
<circle cx="232.5" cy="631.5" r="3.5" fill="url(#g-purple)"/>
<circle cx="257" cy="610" r="3.5" fill="url(#g-purple)"/>
</g>
<g clip-path="url(#cg)">
<polyline fill="none" stroke="#ff0a0a" stroke-width="2.2" stroke-linejoin="round" points="75.1,796.5 75.4,795.8 75.8,795.1 76.2,794.2 76.7,793.2 77.3,792 78,790.6 78.8,789.1 79.8,787.3 80.9,785.3 82.3,783 84,780.4 86.1,777.4 88.5,774.1 91.6,769.8 95.4,765.2 99.7,760.1 104.3,754.5 110.7,747.7 117.6,740.5 127.2,732.1 136,723 147.2,711.7 159.9,699 175.2,684.5 192.3,669.7 212.1,652.7 234.2,633.3 259,612"/>
<circle cx="75.1" cy="796.5" r="3.5" fill="url(#g-red)"/>
<circle cx="75.4" cy="795.8" r="3.5" fill="url(#g-red)"/>
<circle cx="75.8" cy="795.1" r="3.5" fill="url(#g-red)"/>
<circle cx="76.2" cy="794.2" r="3.5" fill="url(#g-red)"/>
<circle cx="76.7" cy="793.2" r="3.5" fill="url(#g-red)"/>
<circle cx="77.3" cy="792" r="3.5" fill="url(#g-red)"/>
<circle cx="78" cy="790.6" r="3.5" fill="url(#g-red)"/>
<circle cx="78.8" cy="789.1" r="3.5" fill="url(#g-red)"/>
<circle cx="79.8" cy="787.3" r="3.5" fill="url(#g-red)"/>
<circle cx="80.9" cy="785.3" r="3.5" fill="url(#g-red)"/>
<circle cx="82.3" cy="783" r="3.5" fill="url(#g-red)"/>
<circle cx="84" cy="780.4" r="3.5" fill="url(#g-red)"/>
<circle cx="86.1" cy="777.4" r="3.5" fill="url(#g-red)"/>
<circle cx="88.5" cy="774.1" r="3.5" fill="url(#g-red)"/>
<circle cx="91.6" cy="769.8" r="3.5" fill="url(#g-red)"/>
<circle cx="95.4" cy="765.2" r="3.5" fill="url(#g-red)"/>
<circle cx="99.7" cy="760.1" r="3.5" fill="url(#g-red)"/>
<circle cx="104.3" cy="754.5" r="3.5" fill="url(#g-red)"/>
<circle cx="110.7" cy="747.7" r="3.5" fill="url(#g-red)"/>
<circle cx="117.6" cy="740.5" r="3.5" fill="url(#g-red)"/>
<circle cx="127.2" cy="732.1" r="3.5" fill="url(#g-red)"/>
<circle cx="136" cy="723" r="3.5" fill="url(#g-red)"/>
<circle cx="147.2" cy="711.7" r="3.5" fill="url(#g-red)"/>
<circle cx="159.9" cy="699" r="3.5" fill="url(#g-red)"/>
<circle cx="175.2" cy="684.5" r="3.5" fill="url(#g-red)"/>
<circle cx="192.3" cy="669.7" r="3.5" fill="url(#g-red)"/>
<circle cx="212.1" cy="652.7" r="3.5" fill="url(#g-red)"/>
<circle cx="234.2" cy="633.3" r="3.5" fill="url(#g-red)"/>
<circle cx="259" cy="612" r="3.5" fill="url(#g-red)"/>
</g>
<line x1="52.9" y1="660" x2="73.8" y2="660" stroke="#8000ff" stroke-width="2.2"/>
<circle cx="63.3" cy="660" r="3.5" fill="url(#g-purple)"/>
<text class="lg" x="76.3" y="663.6">Measured</text>
<line x1="52.9" y1="673" x2="73.8" y2="673" stroke="#ff0a0a" stroke-width="2.2"/>
<circle cx="63.3" cy="673" r="3.5" fill="url(#g-red)"/>
<text class="lg" x="76.3" y="676.6">Calculated</text>
<text class="pl" x="247.3" y="785.6">g</text>
<clipPath id="ch"><rect x="305.8" y="626.4" width="227.6" height="169.9"/></clipPath>
<rect x="305.3" y="625.9" width="228.6" height="170.9" fill="none" stroke="#5c5c5c" stroke-width="1"/>
<path d="M305.3 796.8v3.2M381.5 796.8v3.2M457.7 796.8v3.2M533.9 796.8v3.2M343.4 796.8v1.8M419.6 796.8v1.8M495.8 796.8v1.8M305.3 796.8h-3.2M305.3 739.8h-3.2M305.3 682.9h-3.2M305.3 625.9h-3.2M305.3 768.3h-1.8M305.3 711.3h-1.8M305.3 654.4h-1.8" stroke="#5c5c5c" stroke-width="1" fill="none"/>
<g class="tk" text-anchor="middle">
<text x="305.3" y="809.4">0.0</text>
<text x="381.5" y="809.4">0.5</text>
<text x="457.7" y="809.4">1.0</text>
<text x="533.9" y="809.4">1.5</text>
</g><g class="tk" text-anchor="end">
<text x="299.8" y="800.2">0.0</text>
<text x="299.8" y="743.2">0.5</text>
<text x="299.8" y="686.3">1.0</text>
<text x="299.8" y="629.3">1.5</text>
</g>
<text class="al" text-anchor="middle" x="429.1" y="823">Z′(Ω)</text>
<text class="al yl" text-anchor="middle" transform="translate(282 717.7) rotate(-90)">-Z″ (Ω)</text>
<g clip-path="url(#ch)">
<polyline fill="none" stroke="#0a8212" stroke-width="2.2" stroke-linejoin="round" points="316.5,795.5 316.8,794.9 317.2,794.2 317.6,793.3 318.1,792.4 318.6,791.3 319.3,790 320.1,788.6 321.1,786.9 322.3,785.1 323.9,783.1 325.8,780.8 328,778.2 330.5,775.2 333.5,771.1 336.8,766.8 340.7,762.2 345,756.6 350.1,750.2 355.9,743.3 362.8,735.7 371.2,726.5 382.4,718.5 393,705.5 405,691.5 418.9,675.6 433.4,655.2 450,632.3 470,605"/>
<circle cx="316.5" cy="795.5" r="3.5" fill="url(#g-green)"/>
<circle cx="316.8" cy="794.9" r="3.5" fill="url(#g-green)"/>
<circle cx="317.2" cy="794.2" r="3.5" fill="url(#g-green)"/>
<circle cx="317.6" cy="793.3" r="3.5" fill="url(#g-green)"/>
<circle cx="318.1" cy="792.4" r="3.5" fill="url(#g-green)"/>
<circle cx="318.6" cy="791.3" r="3.5" fill="url(#g-green)"/>
<circle cx="319.3" cy="790" r="3.5" fill="url(#g-green)"/>
<circle cx="320.1" cy="788.6" r="3.5" fill="url(#g-green)"/>
<circle cx="321.1" cy="786.9" r="3.5" fill="url(#g-green)"/>
<circle cx="322.3" cy="785.1" r="3.5" fill="url(#g-green)"/>
<circle cx="323.9" cy="783.1" r="3.5" fill="url(#g-green)"/>
<circle cx="325.8" cy="780.8" r="3.5" fill="url(#g-green)"/>
<circle cx="328" cy="778.2" r="3.5" fill="url(#g-green)"/>
<circle cx="330.5" cy="775.2" r="3.5" fill="url(#g-green)"/>
<circle cx="333.5" cy="771.1" r="3.5" fill="url(#g-green)"/>
<circle cx="336.8" cy="766.8" r="3.5" fill="url(#g-green)"/>
<circle cx="340.7" cy="762.2" r="3.5" fill="url(#g-green)"/>
<circle cx="345" cy="756.6" r="3.5" fill="url(#g-green)"/>
<circle cx="350.1" cy="750.2" r="3.5" fill="url(#g-green)"/>
<circle cx="355.9" cy="743.3" r="3.5" fill="url(#g-green)"/>
<circle cx="362.8" cy="735.7" r="3.5" fill="url(#g-green)"/>
<circle cx="371.2" cy="726.5" r="3.5" fill="url(#g-green)"/>
<circle cx="382.4" cy="718.5" r="3.5" fill="url(#g-green)"/>
<circle cx="393" cy="705.5" r="3.5" fill="url(#g-green)"/>
<circle cx="405" cy="691.5" r="3.5" fill="url(#g-green)"/>
<circle cx="418.9" cy="675.6" r="3.5" fill="url(#g-green)"/>
<circle cx="433.4" cy="655.2" r="3.5" fill="url(#g-green)"/>
<circle cx="450" cy="632.3" r="3.5" fill="url(#g-green)"/>
<circle cx="470" cy="605" r="3.5" fill="url(#g-green)"/>
</g>
<g clip-path="url(#ch)">
<polyline fill="none" stroke="#ff0a0a" stroke-width="2.2" stroke-linejoin="round" points="317,796 317.3,795.4 317.7,794.7 318.1,793.8 318.6,792.9 319.1,791.8 319.8,790.5 320.6,789.1 321.6,787.4 322.8,785.6 324.4,783.6 326.3,781.3 328.5,778.7 331,775.7 334,771.6 337.3,767.3 341.2,762.7 345.5,757.1 350.6,750.7 356.4,743.8 363.3,736.2 371.7,727 381.9,716.3 392,703.5 404.3,689.3 418.9,672.3 435.4,652.7 455.8,629 480,601"/>
<circle cx="317" cy="796" r="3.5" fill="url(#g-red)"/>
<circle cx="317.3" cy="795.4" r="3.5" fill="url(#g-red)"/>
<circle cx="317.7" cy="794.7" r="3.5" fill="url(#g-red)"/>
<circle cx="318.1" cy="793.8" r="3.5" fill="url(#g-red)"/>
<circle cx="318.6" cy="792.9" r="3.5" fill="url(#g-red)"/>
<circle cx="319.1" cy="791.8" r="3.5" fill="url(#g-red)"/>
<circle cx="319.8" cy="790.5" r="3.5" fill="url(#g-red)"/>
<circle cx="320.6" cy="789.1" r="3.5" fill="url(#g-red)"/>
<circle cx="321.6" cy="787.4" r="3.5" fill="url(#g-red)"/>
<circle cx="322.8" cy="785.6" r="3.5" fill="url(#g-red)"/>
<circle cx="324.4" cy="783.6" r="3.5" fill="url(#g-red)"/>
<circle cx="326.3" cy="781.3" r="3.5" fill="url(#g-red)"/>
<circle cx="328.5" cy="778.7" r="3.5" fill="url(#g-red)"/>
<circle cx="331" cy="775.7" r="3.5" fill="url(#g-red)"/>
<circle cx="334" cy="771.6" r="3.5" fill="url(#g-red)"/>
<circle cx="337.3" cy="767.3" r="3.5" fill="url(#g-red)"/>
<circle cx="341.2" cy="762.7" r="3.5" fill="url(#g-red)"/>
<circle cx="345.5" cy="757.1" r="3.5" fill="url(#g-red)"/>
<circle cx="350.6" cy="750.7" r="3.5" fill="url(#g-red)"/>
<circle cx="356.4" cy="743.8" r="3.5" fill="url(#g-red)"/>
<circle cx="363.3" cy="736.2" r="3.5" fill="url(#g-red)"/>
<circle cx="371.7" cy="727" r="3.5" fill="url(#g-red)"/>
<circle cx="381.9" cy="716.3" r="3.5" fill="url(#g-red)"/>
<circle cx="392" cy="703.5" r="3.5" fill="url(#g-red)"/>
<circle cx="404.3" cy="689.3" r="3.5" fill="url(#g-red)"/>
<circle cx="418.9" cy="672.3" r="3.5" fill="url(#g-red)"/>
<circle cx="435.4" cy="652.7" r="3.5" fill="url(#g-red)"/>
<circle cx="455.8" cy="629" r="3.5" fill="url(#g-red)"/>
<circle cx="480" cy="601" r="3.5" fill="url(#g-red)"/>
</g>
<line x1="316.5" y1="654.5" x2="336.8" y2="654.5" stroke="#0a8212" stroke-width="2.2"/>
<circle cx="326.6" cy="654.5" r="3.5" fill="url(#g-green)"/>
<text class="lg" x="339.9" y="658.1">Measured</text>
<line x1="316.5" y1="667.3" x2="336.8" y2="667.3" stroke="#ff0a0a" stroke-width="2.2"/>
<circle cx="326.6" cy="667.3" r="3.5" fill="url(#g-red)"/>
<text class="lg" x="339.9" y="670.9">Calculated</text>
<text class="pl" x="516.3" y="789.7">h</text>
</svg></body></html>
